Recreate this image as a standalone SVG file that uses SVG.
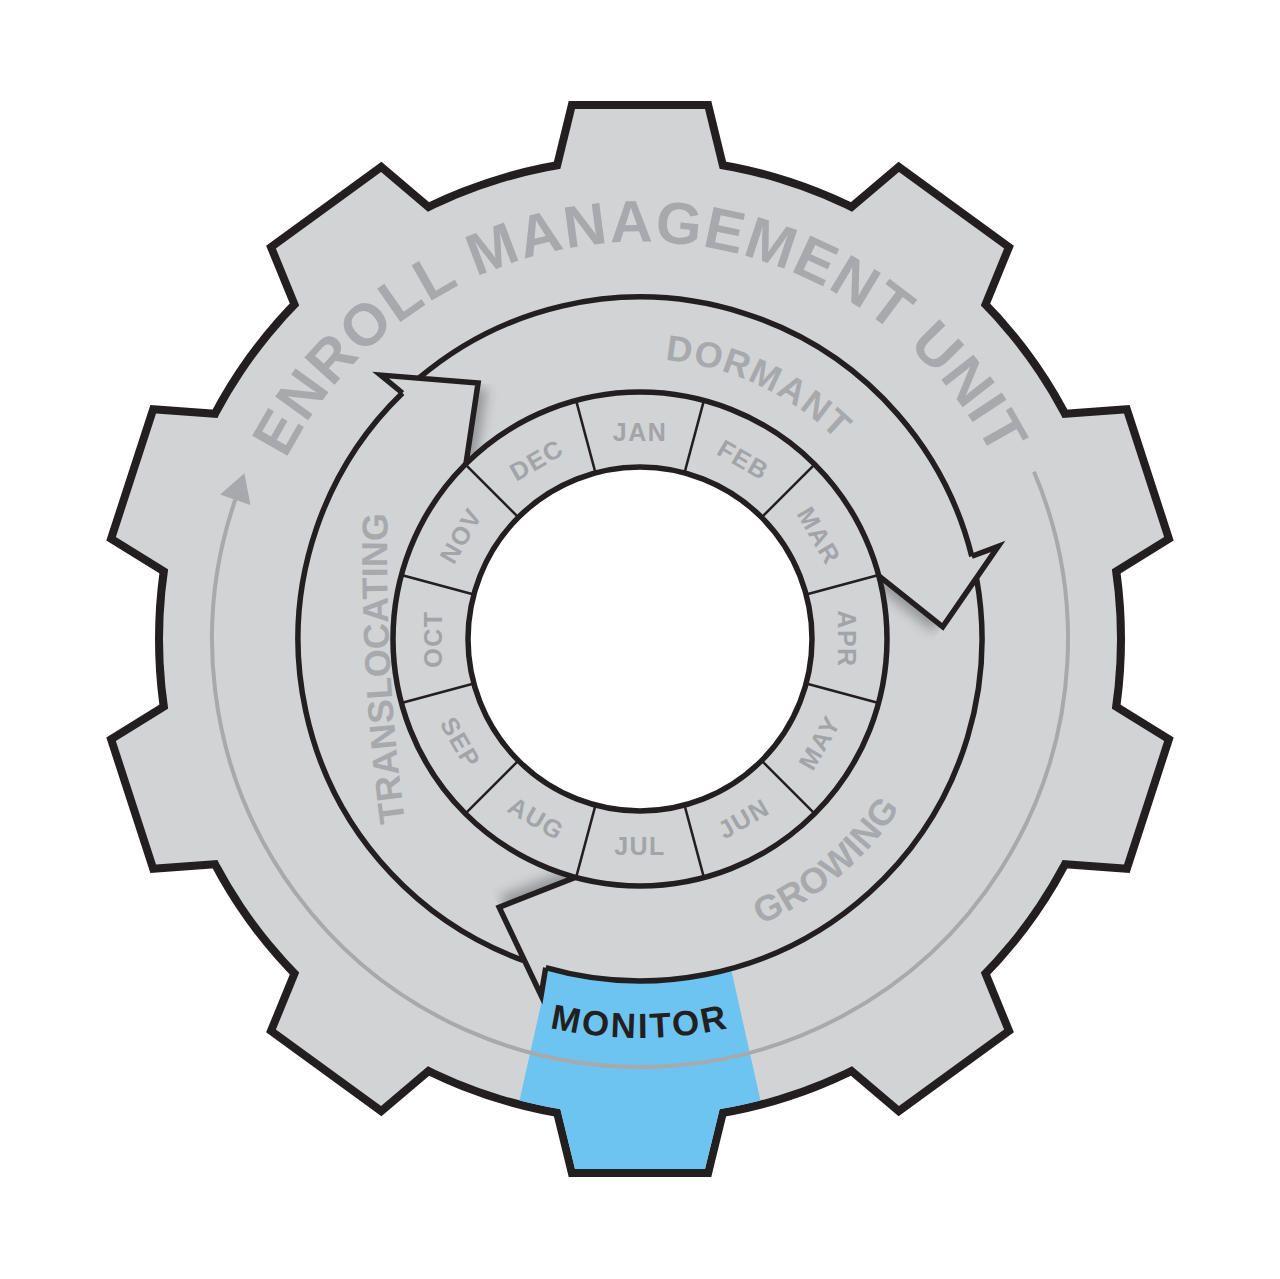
<svg xmlns="http://www.w3.org/2000/svg" xmlns:xlink="http://www.w3.org/1999/xlink" width="1280" height="1279" viewBox="0 0 1280 1279">
<style>
.lbl{font-family:"Liberation Sans",Arial,sans-serif;font-weight:bold;fill:#a7a9ac}
.m{font-size:25px;letter-spacing:1.5px;text-anchor:middle;fill:#a2a4a7}
.band{fill:none;stroke:#231f20;stroke-width:5.5;stroke-linejoin:miter}
.div{stroke:#231f20;stroke-width:2.5}
</style>
<defs>
<polygon id="tooth" points="553,199 575,109 705,109 727,199"/>
<g id="gearShape">
<circle cx="640" cy="639" r="477"/>
<use href="#tooth"/>
<use href="#tooth" transform="rotate(36 640 639)"/>
<use href="#tooth" transform="rotate(72 640 639)"/>
<use href="#tooth" transform="rotate(108 640 639)"/>
<use href="#tooth" transform="rotate(144 640 639)"/>
<use href="#tooth" transform="rotate(180 640 639)"/>
<use href="#tooth" transform="rotate(216 640 639)"/>
<use href="#tooth" transform="rotate(252 640 639)"/>
<use href="#tooth" transform="rotate(288 640 639)"/>
<use href="#tooth" transform="rotate(324 640 639)"/>
</g>
<clipPath id="gearClip">
<circle cx="640" cy="639" r="477"/>
<polygon points="553,1079 575,1169 705,1169 727,1079"/>
</clipPath>
<clipPath id="shClip">
<polygon points="478.1,382.9 600,392.7 600,520 457.6,520"/>
</clipPath>
<filter id="blur" x="-50%" y="-50%" width="200%" height="200%">
<feGaussianBlur stdDeviation="6"/>
</filter>
<marker id="ah" markerUnits="userSpaceOnUse" markerWidth="40" markerHeight="40" viewBox="-2 -20 40 40" refX="0" refY="0" orient="auto">
<path d="M0,-16 L28,0 L0,16 Z" fill="#a7a9ac"/>
</marker>
<g id="shadow1" clip-path="url(#shClip)">
<polygon points="411.4,399 389.7,381.1 487.1,388.9 475,469.7" fill="#6d6e71" opacity="0.6" filter="url(#blur)"/>
</g>
<path id="unit" class="band" d="M402.4,393 L380.7,375.1 L478.1,382.9 L466,463.7 M418.8,378.2 A342,342 0 0 1 971.8,556.3"/>
<line id="divider" class="div" x1="640" y1="392" x2="640" y2="467"/>
<path id="pEnroll" d="M266.9,503.2 A397,397 0 0 1 1013.1,503.2"/>
<path id="pDormant" d="M591.4,363.3 A280,280 0 0 1 882.5,499"/>
<path id="pGrowing" d="M640,949 A310,310 0 0 0 945.3,692.8"/>
<path id="pTrans" d="M407,835 Q383,670 388,500"/>
<path id="pMonitor" d="M440.5,984.5 A399,399 0 0 0 839.5,984.5"/>
</defs>

<g id="gear">
<use href="#gearShape" fill="#231f20" stroke="#231f20" stroke-width="16" stroke-linejoin="miter"/>
<use href="#gearShape" fill="#d1d3d4"/>
</g>

<g id="monitor-tab">
<path clip-path="url(#gearClip)" d="M549,968.7 A342,342 0 0 0 731,968.7 L785,1210 L495,1210 Z" fill="#6dc4f0"/>
</g>

<g id="cycle-arc">
<path d="M1034,471.8 A428,428 0 1 1 235.3,499.7" fill="none" stroke="#a7a9ac" stroke-width="4" marker-end="url(#ah)"/>
</g>

<g id="shadows">
<use href="#shadow1"/>
<use href="#shadow1" transform="rotate(120 640 639)"/>
<use href="#shadow1" transform="rotate(240 640 639)"/>
</g>

<g id="connectors">
<use href="#unit"/>
<use href="#unit" transform="rotate(120 640 639)"/>
<use href="#unit" transform="rotate(240 640 639)"/>
</g>

<g id="month-ring">
<circle cx="640" cy="639" r="247" fill="#d1d3d4" stroke="#231f20" stroke-width="5.5"/>
<circle cx="640" cy="639" r="172" fill="#ffffff" stroke="#231f20" stroke-width="5.5"/>
<use href="#divider" transform="rotate(-15 640 639)"/>
<use href="#divider" transform="rotate(15 640 639)"/>
<use href="#divider" transform="rotate(45 640 639)"/>
<use href="#divider" transform="rotate(75 640 639)"/>
<use href="#divider" transform="rotate(105 640 639)"/>
<use href="#divider" transform="rotate(135 640 639)"/>
<use href="#divider" transform="rotate(165 640 639)"/>
<use href="#divider" transform="rotate(195 640 639)"/>
<use href="#divider" transform="rotate(225 640 639)"/>
<use href="#divider" transform="rotate(255 640 639)"/>
<use href="#divider" transform="rotate(285 640 639)"/>
<use href="#divider" transform="rotate(315 640 639)"/>
</g>

<g id="months" class="lbl m">
<text transform="translate(640,432)" dy="9">JAN</text>
<text transform="translate(743.5,459.7) rotate(30)" dy="9">FEB</text>
<text transform="translate(819.3,535.5) rotate(60)" dy="9">MAR</text>
<text transform="translate(847,639) rotate(90)" dy="9">APR</text>
<text transform="translate(819.3,742.5) rotate(-60)" dy="9">MAY</text>
<text transform="translate(743.5,818.3) rotate(-30)" dy="9">JUN</text>
<text transform="translate(640,846)" dy="9">JUL</text>
<text transform="translate(536.5,818.3) rotate(30)" dy="9">AUG</text>
<text transform="translate(460.7,742.5) rotate(60)" dy="9">SEP</text>
<text transform="translate(433,639) rotate(-90)" dy="9">OCT</text>
<text transform="translate(460.7,535.5) rotate(-60)" dy="9">NOV</text>
<text transform="translate(536.5,459.7) rotate(-30)" dy="9">DEC</text>
</g>

<g id="labels">
<text class="lbl" font-size="59" letter-spacing="1.5"><textPath href="#pEnroll" startOffset="50%" text-anchor="middle">ENROLL MANAGEMENT UNIT</textPath></text>
<text class="lbl" font-size="36" letter-spacing="1.5"><textPath href="#pDormant" startOffset="50%" text-anchor="middle">DORMANT</textPath></text>
<text class="lbl" font-size="36" letter-spacing="0.7"><textPath href="#pGrowing" startOffset="50%" text-anchor="middle">GROWING</textPath></text>
<text class="lbl" font-size="36"><textPath href="#pTrans" startOffset="50%" text-anchor="middle">TRANSLOCATING</textPath></text>
<text font-family="Liberation Sans, Arial, sans-serif" font-weight="bold" font-size="35" letter-spacing="2.5" fill="#231f20"><textPath href="#pMonitor" startOffset="50%" text-anchor="middle">MONITOR</textPath></text>
</g>
</svg>
